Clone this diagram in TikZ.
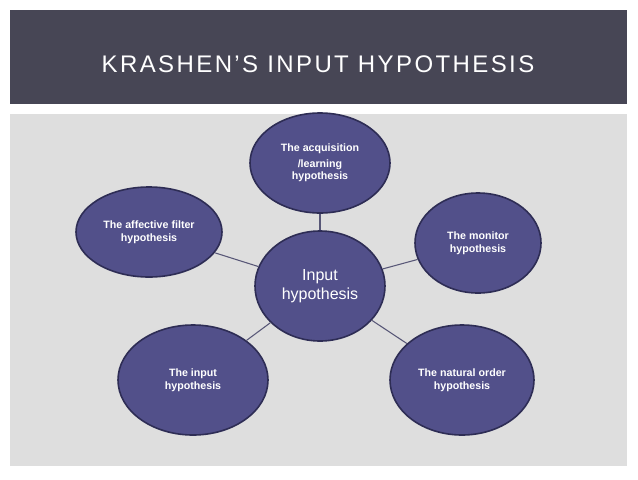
\documentclass[tikz,border=0pt]{standalone}
\usepackage{fontspec}
\setmainfont{Liberation Sans}
\usetikzlibrary{shapes.geometric}
\definecolor{bar}{HTML}{474655}
\definecolor{bg}{HTML}{DEDEDE}
\definecolor{ell}{HTML}{52508A}
\definecolor{edge}{HTML}{2E2D55}
\tikzset{x=0.75pt,y=-0.75pt,
 hyp/.style={ellipse,fill=ell,draw=edge,line width=1.2pt,text=white,align=center,font=\fontsize{8}{9.5}\selectfont\bfseries,inner sep=0pt},
 conn/.style={draw=edge!80,line width=0.8pt}}
\begin{document}
\begin{tikzpicture}
\useasboundingbox (0,0) rectangle (638,479);
\fill[white] (0,0) rectangle (638,479);
\fill[bar] (10,10) rectangle (627,104);
\fill[bg] (10,114) rectangle (627,466);
\node[text=white,font=\fontsize{18}{20}\selectfont] (title) at (318,64) {\addfontfeature{LetterSpace=10}KRASHEN’S INPUT HYPOTHESIS};
\node[hyp,minimum width=130*0.75pt,minimum height=110*0.75pt,font=\fontsize{12}{14}\selectfont] (c) at (320,286) {Input\\hypothesis};
\node[hyp,minimum width=140*0.75pt,minimum height=100*0.75pt] (a) at (320,163) {The acquisition\\[2pt]/learning\\hypothesis};
\node[hyp,minimum width=146*0.75pt,minimum height=90*0.75pt] (f) at (149,232) {The affective filter\\hypothesis};
\node[hyp,minimum width=126*0.75pt,minimum height=100*0.75pt] (m) at (478,243) {The monitor\\hypothesis};
\node[hyp,minimum width=150*0.75pt,minimum height=110*0.75pt] (i) at (193,380) {The input\\hypothesis};
\node[hyp,minimum width=144*0.75pt,minimum height=110*0.75pt] (n) at (462,380) {The natural order\\hypothesis};
\draw[conn] (c) -- (a);
\draw[conn] (c) -- (f);
\draw[conn] (c) -- (m);
\draw[conn] (c) -- (i);
\draw[conn] (c) -- (n);
\end{tikzpicture}
\end{document}
